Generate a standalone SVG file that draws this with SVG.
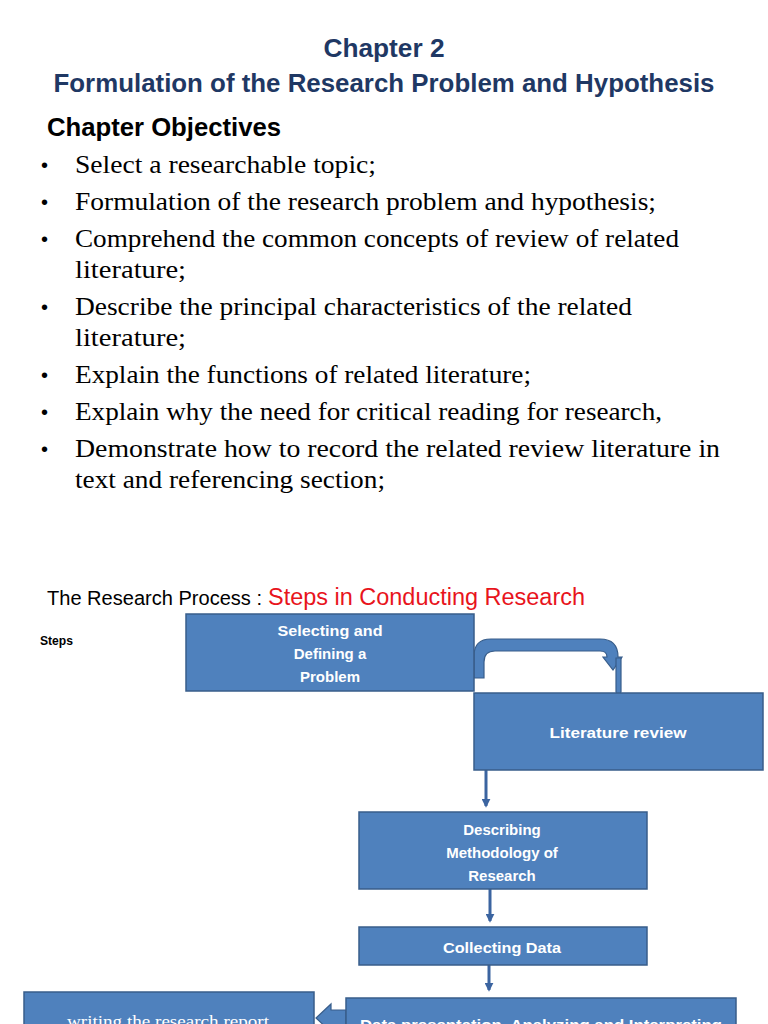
<svg xmlns="http://www.w3.org/2000/svg" width="768" height="1024" viewBox="0 0 768 1024">
<defs>
<style>
.title{font-family:"Liberation Sans",Arial,sans-serif;font-weight:bold;font-size:25px;fill:#1F3864;text-anchor:middle}
.head{font-family:"Liberation Sans",Arial,sans-serif;font-weight:bold;font-size:25px;fill:#000}
.bul{font-family:"Liberation Serif","Times New Roman",serif;font-size:25px;fill:#000}
.dot{font-family:"Liberation Sans",Arial,sans-serif;font-size:20px;fill:#000}
.box{fill:#4F81BD;stroke:#385D8A;stroke-width:1.5}
.bt{font-family:"Liberation Sans",Arial,sans-serif;font-weight:bold;font-size:15px;fill:#fff;text-anchor:middle}
.bts{font-family:"Liberation Serif","Times New Roman",serif;font-size:16px;fill:#fff;text-anchor:middle}
.conn{stroke:#3B64A0;stroke-width:3;fill:none}
.arr{fill:#4F81BD;stroke:#385D8A;stroke-width:1.2}
</style>
<marker id="ah" viewBox="0 0 10 10" refX="8" refY="5" markerWidth="3" markerHeight="3" orient="auto">
<path d="M0,0 L10,5 L0,10 Z" fill="#3B64A0"/>
</marker>
</defs>
<rect width="768" height="1024" fill="#fff"/>
<g id="header">
<text class="title" x="384" y="57" textLength="121" lengthAdjust="spacingAndGlyphs">Chapter 2</text>
<text class="title" x="384" y="92" textLength="661" lengthAdjust="spacingAndGlyphs">Formulation of the Research Problem and Hypothesis</text>
<text class="head" x="47" y="136" textLength="234" lengthAdjust="spacingAndGlyphs">Chapter Objectives</text>
</g>
<g id="objectives">
<text class="dot" x="41" y="172">•</text>
<text class="bul" x="75" y="173" textLength="301" lengthAdjust="spacingAndGlyphs">Select  a researchable topic;</text>
<text class="dot" x="41" y="209">•</text>
<text class="bul" x="75" y="210" textLength="581" lengthAdjust="spacingAndGlyphs">Formulation of the research problem and hypothesis;</text>
<text class="dot" x="41" y="246">•</text>
<text class="bul" x="75" y="247" textLength="604" lengthAdjust="spacingAndGlyphs">Comprehend the common concepts of review of related</text>
<text class="bul" x="75" y="278" textLength="111" lengthAdjust="spacingAndGlyphs">literature;</text>
<text class="dot" x="41" y="314">•</text>
<text class="bul" x="75" y="315" textLength="557" lengthAdjust="spacingAndGlyphs">Describe the principal characteristics of the related</text>
<text class="bul" x="75" y="346" textLength="111" lengthAdjust="spacingAndGlyphs">literature;</text>
<text class="dot" x="41" y="382">•</text>
<text class="bul" x="75" y="383" textLength="456" lengthAdjust="spacingAndGlyphs">Explain the functions of related literature;</text>
<text class="dot" x="41" y="419">•</text>
<text class="bul" x="75" y="420" textLength="587" lengthAdjust="spacingAndGlyphs">Explain why the need for critical reading for research,</text>
<text class="dot" x="41" y="456">•</text>
<text class="bul" x="75" y="457" textLength="645" lengthAdjust="spacingAndGlyphs">Demonstrate how to record the related review literature in</text>
<text class="bul" x="75" y="488" textLength="310" lengthAdjust="spacingAndGlyphs">text and referencing section;</text>
</g>
<g id="process-title">
<text x="47" y="605" font-family="Liberation Sans,Arial,sans-serif" font-size="20" fill="#000" textLength="215" lengthAdjust="spacingAndGlyphs">The Research Process : </text>
<text x="268" y="605" font-family="Liberation Sans,Arial,sans-serif" font-size="23" fill="#E8141C" textLength="317" lengthAdjust="spacingAndGlyphs">Steps in Conducting Research</text>
<text x="40" y="645" font-family="Liberation Sans,Arial,sans-serif" font-size="12" font-weight="bold" fill="#000" textLength="33" lengthAdjust="spacingAndGlyphs">Steps</text>
</g>
<g id="connectors">
<path class="arr" d="M474,678 L474,656 Q474,639 491,639 L600,639 Q618,639 618,657 L622,657 L613,670 L603,657 L607,657 Q607,651 600,651 L495,651 Q484,651 484,662 L484,678 Z"/>
<path class="arr" d="M616,658 L621,658 L621,692 L618.5,698 L616,692 Z"/>
<line class="conn" x1="486" y1="770" x2="486" y2="806" marker-end="url(#ah)"/>
<line class="conn" x1="490" y1="880" x2="490" y2="921" marker-end="url(#ah)"/>
<line class="conn" x1="489" y1="965" x2="489" y2="990" marker-end="url(#ah)"/>
<path class="arr" d="M346,1010 L331,1010 L331,1004 L316,1018 L331,1032 L331,1026 L346,1026 Z"/>
</g>
<g id="n1">
<rect class="box" x="186" y="614" width="288" height="77"/>
<text class="bt" x="330" y="636" textLength="105" lengthAdjust="spacingAndGlyphs">Selecting and</text>
<text class="bt" x="330" y="659">Defining a</text>
<text class="bt" x="330" y="682">Problem</text>
</g>
<g id="n2">
<rect class="box" x="474" y="693" width="289" height="77"/>
<text class="bt" x="618" y="738" textLength="137" lengthAdjust="spacingAndGlyphs">Literature review</text>
</g>
<g id="n3">
<rect class="box" x="359" y="812" width="288" height="77"/>
<text class="bt" x="502" y="835">Describing</text>
<text class="bt" x="502" y="858">Methodology of</text>
<text class="bt" x="502" y="881">Research</text>
</g>
<g id="n4">
<rect class="box" x="359" y="927" width="288" height="38"/>
<text class="bt" x="502" y="953" textLength="118" lengthAdjust="spacingAndGlyphs">Collecting Data</text>
</g>
<g id="n5">
<rect class="box" x="24" y="992" width="290" height="50"/>
<text class="bts" x="168" y="1027" textLength="202" lengthAdjust="spacingAndGlyphs">writing the research report</text>
</g>
<g id="n6">
<rect class="box" x="346" y="998" width="390" height="50"/>
<text class="bt" x="541" y="1030" textLength="362" lengthAdjust="spacingAndGlyphs">Data presentation, Analyzing and Interpreting</text>
</g>
</svg>
